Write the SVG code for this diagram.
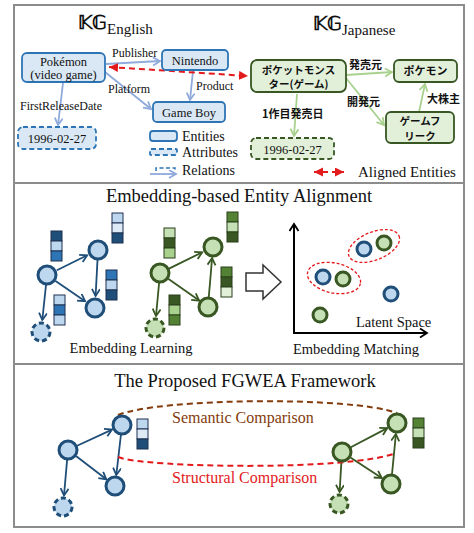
<svg xmlns="http://www.w3.org/2000/svg" width="474" height="533" viewBox="0 0 474 533">
<style>
.frame{fill:#fff;stroke:#8c8c8c;stroke-width:2}
.t{font-family:"Liberation Serif","Times New Roman",serif;fill:#111}
.jp{font-family:"Noto Sans CJK JP",sans-serif;font-weight:bold;fill:#111}
.ent{fill:#dae8f5;stroke:#2e75b6;stroke-width:1.8}
.att{fill:#dae8f5;stroke:#2e75b6;stroke-width:1.8;stroke-dasharray:5,3}
.jent{fill:#e2f0d9;stroke:#385723;stroke-width:1.8}
.jatt{fill:#e2f0d9;stroke:#385723;stroke-width:1.8;stroke-dasharray:5,3}
.eb{stroke:#8faadc;stroke-width:1.8;fill:none;marker-end:url(#ab)}
.eg{stroke:#a9d18e;stroke-width:1.8;fill:none;marker-end:url(#ag)}
.bn{fill:#bdd7ee;stroke:#1f4e79;stroke-width:3}
.bd{fill:#bdd7ee;stroke:#1f4e79;stroke-width:3;stroke-dasharray:5,3}
.gn{fill:#c5e0b4;stroke:#385723;stroke-width:3}
.gd{fill:#c5e0b4;stroke:#385723;stroke-width:3;stroke-dasharray:5,3}
.ebd{stroke:#1f4e79;stroke-width:1.8;fill:none;marker-end:url(#adb)}
.egd{stroke:#385723;stroke-width:1.8;fill:none;marker-end:url(#adg)}
.cb{stroke:#1f3050;stroke-width:1}
.cg{stroke:#2a3f1a;stroke-width:1}
</style>
<defs>
<marker id="ab" markerUnits="userSpaceOnUse" markerWidth="12" markerHeight="12" refX="8" refY="4.5" orient="auto"><path d="M1,0.5 L8,4.5 L1,8.5" fill="none" stroke="#8faadc" stroke-width="1.8"/></marker>
<marker id="ag" markerUnits="userSpaceOnUse" markerWidth="12" markerHeight="12" refX="8" refY="4.5" orient="auto"><path d="M1,0.5 L8,4.5 L1,8.5" fill="none" stroke="#a9d18e" stroke-width="1.8"/></marker>
<marker id="adb" markerUnits="userSpaceOnUse" markerWidth="12" markerHeight="12" refX="8" refY="4.5" orient="auto"><path d="M1,0.5 L8,4.5 L1,8.5" fill="none" stroke="#1f4e79" stroke-width="1.8"/></marker>
<marker id="adg" markerUnits="userSpaceOnUse" markerWidth="12" markerHeight="12" refX="8" refY="4.5" orient="auto"><path d="M1,0.5 L8,4.5 L1,8.5" fill="none" stroke="#385723" stroke-width="1.8"/></marker>
<marker id="ar" markerUnits="userSpaceOnUse" markerWidth="12" markerHeight="12" refX="9" refY="4.5" orient="auto-start-reverse"><path d="M0,0 L9,4.5 L0,9 Z" fill="#e31a1c"/></marker>
<marker id="ak" markerUnits="userSpaceOnUse" markerWidth="12" markerHeight="12" refX="8" refY="5" orient="auto"><path d="M1,0.5 L8,5 L1,9.5" fill="none" stroke="#000" stroke-width="1.8"/></marker>
</defs>

<!-- panels -->
<rect class="frame" x="14" y="5" width="450" height="178"/>
<rect class="frame" x="14" y="183" width="450" height="181"/>
<rect class="frame" x="14" y="364" width="450" height="163"/>

<!-- Panel 1 titles -->
<text class="t" x="78" y="29" font-size="19" font-weight="bold" font-family="DejaVu Serif,DejaVu Sans,serif">𝕂𝔾<tspan font-family="Liberation Serif,serif" font-weight="normal" font-size="15" dy="5">English</tspan></text>
<text class="t" x="313" y="30" font-size="19" font-weight="bold" font-family="DejaVu Serif,DejaVu Sans,serif">𝕂𝔾<tspan font-family="Liberation Serif,serif" font-weight="normal" font-size="15" dy="5">Japanese</tspan></text>

<g id="connectors">
  <line class="eb" x1="106" y1="64" x2="160" y2="61"/>
  <line class="eb" x1="105" y1="72" x2="151" y2="109"/>
  <line class="eb" x1="193" y1="71" x2="190" y2="100"/>
  <line class="eb" x1="63" y1="83" x2="58" y2="125"/>
  <line class="eg" x1="346" y1="75" x2="392" y2="72"/>
  <line class="eg" x1="346" y1="78" x2="384" y2="125"/>
  <line class="eg" x1="419" y1="112" x2="425" y2="84"/>
  <line class="eg" x1="297" y1="94" x2="294" y2="136"/>
  <line x1="109" y1="67" x2="248" y2="76" stroke="#e31a1c" stroke-width="2" stroke-dasharray="6,4" marker-start="url(#ar)" marker-end="url(#ar)"/>
  <!-- panel 2 blue -->
  <line class="ebd" x1="56.9" y1="270.2" x2="87.2" y2="255.3"/>
  <line class="ebd" x1="55.2" y1="280.7" x2="85.1" y2="301.2"/>
  <line class="ebd" x1="97.5" y1="260" x2="95.6" y2="296"/>
  <line class="ebd" x1="46" y1="285" x2="42.3" y2="320"/>
  <!-- panel 2 green -->
  <line class="egd" x1="169" y1="268.6" x2="202.2" y2="252.3"/>
  <line class="egd" x1="168.2" y1="278.8" x2="199.2" y2="300.6"/>
  <line class="egd" x1="208.8" y1="297" x2="212.1" y2="258"/>
  <line class="egd" x1="159.1" y1="283" x2="156" y2="316"/>
  <!-- panel 3 blue -->
  <line class="ebd" x1="77.1" y1="445.8" x2="112" y2="429.6"/>
  <line class="ebd" x1="76" y1="456" x2="106.3" y2="479.3"/>
  <line class="ebd" x1="120.9" y1="435" x2="116.3" y2="475"/>
  <line class="ebd" x1="67.1" y1="460" x2="64" y2="495.5"/>
  <!-- panel 3 green -->
  <line class="egd" x1="350.8" y1="447.3" x2="387.3" y2="428.1"/>
  <line class="egd" x1="350.4" y1="457.5" x2="381.8" y2="478"/>
  <line class="egd" x1="392" y1="474" x2="395.9" y2="434"/>
  <line class="egd" x1="341.4" y1="462" x2="339.6" y2="492"/>
  <!-- comparisons -->
  <path d="M118,415 C160,398 350,396 397,413" fill="none" stroke="#843c0c" stroke-width="2" stroke-dasharray="6,4"/>
  <path d="M118,457 C145,468 350,471 396,453" fill="none" stroke="#e31a1c" stroke-width="2" stroke-dasharray="6,4"/>
</g>

<!-- edge labels -->
<g id="edge-labels" class="t" font-size="12">
  <text x="112" y="57">Publisher</text>
  <text x="108" y="93">Platform</text>
  <text x="196" y="90">Product</text>
  <text x="20" y="110">FirstReleaseDate</text>
</g>
<g id="edge-labels-jp" class="jp" font-size="11">
  <text x="349" y="69">発売元</text>
  <text x="347" y="106">開発元</text>
  <text x="427" y="103">大株主</text>
  <text x="262" y="118">1作目発売日</text>
</g>

<!-- English KG nodes -->
<g id="n-pokemon"><rect class="ent" x="22" y="53" width="83" height="29" rx="5"/>
  <text class="t" x="63.5" y="66" font-size="12.5" text-anchor="middle">Pokémon</text>
  <text class="t" x="63.5" y="79" font-size="12.5" text-anchor="middle">(video game)</text></g>
<g id="n-nintendo"><rect class="ent" x="162" y="50" width="66" height="20" rx="4"/>
  <text class="t" x="195" y="64.5" font-size="12.5" text-anchor="middle">Nintendo</text></g>
<g id="n-gameboy"><rect class="ent" x="153" y="102" width="72" height="20" rx="4"/>
  <text class="t" x="189" y="116.5" font-size="12.5" text-anchor="middle">Game Boy</text></g>
<g id="n-date-en"><rect class="att" x="18" y="127" width="78" height="22" rx="5"/>
  <text class="t" x="57" y="142.5" font-size="12.5" text-anchor="middle">1996-02-27</text></g>

<!-- Japanese KG nodes -->
<g id="n-pokemon-jp"><rect class="jent" x="251" y="60" width="95" height="32" rx="6"/>
  <text class="jp" x="298.5" y="74" font-size="10.5" text-anchor="middle">ポケットモンス</text>
  <text class="jp" x="298.5" y="88" font-size="10.5" text-anchor="middle">ター(ゲーム)</text></g>
<g id="n-pokemon-co"><rect class="jent" x="394" y="60" width="63" height="22" rx="5"/>
  <text class="jp" x="425.5" y="75" font-size="11" text-anchor="middle">ポケモン</text></g>
<g id="n-gamefreak"><rect class="jent" x="386" y="112" width="68" height="31" rx="5"/>
  <text class="jp" x="420" y="125" font-size="10.5" text-anchor="middle">ゲームフ</text>
  <text class="jp" x="420" y="139.5" font-size="10.5" text-anchor="middle">リーク</text></g>
<g id="n-date-jp"><rect class="jatt" x="251" y="138" width="83" height="21" rx="5"/>
  <text class="t" x="292.5" y="153.5" font-size="12.5" text-anchor="middle">1996-02-27</text></g>

<!-- legend -->
<g id="legend">
  <rect class="ent" x="150" y="131" width="27" height="10" rx="3"/>
  <text class="t" x="182" y="141" font-size="14">Entities</text>
  <rect class="att" x="150" y="149" width="27" height="6" rx="1" stroke-dasharray="4,2.5"/>
  <text class="t" x="182" y="157" font-size="14">Attributes</text>
  <path d="M156,171 V168 H175 V170" fill="none" stroke="#2e75b6" stroke-width="1.5" stroke-dasharray="4,2.5"/>
  <line x1="150" y1="174" x2="176" y2="174" stroke="#8faadc" stroke-width="1.8" marker-end="url(#ab)"/>
  <text class="t" x="182" y="175" font-size="14">Relations</text>
  <line x1="314" y1="172" x2="344" y2="172" stroke="#e31a1c" stroke-width="2" stroke-dasharray="5,4" marker-start="url(#ar)" marker-end="url(#ar)"/>
  <text class="t" x="358" y="177" font-size="15">Aligned Entities</text>
</g>

<!-- Panel 2 -->
<text class="t" x="239" y="202" font-size="18.5" text-anchor="middle">Embedding-based Entity Alignment</text>
<g id="p2-blue">
  <circle class="bn" cx="47" cy="275" r="9"/>
  <circle class="bn" cx="98" cy="250" r="9"/>
  <circle class="bn" cx="95" cy="308" r="9"/>
  <circle class="bd" cx="41" cy="332" r="9"/>
</g>
<g id="p2-blue-vectors" class="cb">
  <rect x="51" y="231" width="11" height="10" fill="#1f4e79"/><rect x="51" y="241" width="11" height="10" fill="#bdd7ee"/><rect x="51" y="251" width="11" height="10" fill="#2e75b6"/>
  <rect x="112" y="213" width="11" height="10" fill="#bdd7ee"/><rect x="112" y="223" width="11" height="10" fill="#deebf7"/><rect x="112" y="233" width="11" height="10" fill="#1f4e79"/>
  <rect x="106" y="270" width="11" height="10" fill="#2e75b6"/><rect x="106" y="280" width="11" height="10" fill="#bdd7ee"/><rect x="106" y="290" width="11" height="10" fill="#1f4e79"/>
  <rect x="54" y="295" width="11" height="10" fill="#bdd7ee"/><rect x="54" y="305" width="11" height="10" fill="#2e75b6"/><rect x="54" y="315" width="11" height="10" fill="#bdd7ee"/>
</g>
<g id="p2-green">
  <circle class="gn" cx="160" cy="273" r="9"/>
  <circle class="gn" cx="213" cy="247" r="9"/>
  <circle class="gn" cx="208" cy="307" r="9"/>
  <circle class="gd" cx="155" cy="328" r="9"/>
</g>
<g id="p2-green-vectors" class="cg">
  <rect x="164" y="228" width="11" height="10" fill="#c5e0b4"/><rect x="164" y="238" width="11" height="10" fill="#385723"/><rect x="164" y="248" width="11" height="10" fill="#a9d18e"/>
  <rect x="227" y="212" width="11" height="10" fill="#548235"/><rect x="227" y="222" width="11" height="10" fill="#c5e0b4"/><rect x="227" y="232" width="11" height="10" fill="#385723"/>
  <rect x="221" y="267" width="11" height="10" fill="#548235"/><rect x="221" y="277" width="11" height="10" fill="#385723"/><rect x="221" y="287" width="11" height="10" fill="#e2f0d9"/>
  <rect x="169" y="295" width="11" height="10" fill="#385723"/><rect x="169" y="305" width="11" height="10" fill="#a9d18e"/><rect x="169" y="315" width="11" height="10" fill="#548235"/>
</g>
<text class="t" x="131" y="353" font-size="14.5" text-anchor="middle">Embedding Learning</text>

<polygon id="big-arrow" points="246,273 263,273 263,265 281,282 263,299 263,291 246,291" fill="#fff" stroke="#333" stroke-width="1.5"/>

<g id="latent-space">
  <line x1="294" y1="333" x2="294" y2="224" stroke="#000" stroke-width="2" marker-end="url(#ak)"/>
  <line x1="293" y1="333" x2="427" y2="333" stroke="#000" stroke-width="2" marker-end="url(#ak)"/>
  <ellipse cx="334" cy="278" rx="27" ry="15" transform="rotate(12 334 278)" fill="none" stroke="#e31a1c" stroke-width="1.3" stroke-dasharray="3,2"/>
  <ellipse cx="374" cy="246" rx="27" ry="14" transform="rotate(-22 374 246)" fill="none" stroke="#e31a1c" stroke-width="1.3" stroke-dasharray="3,2"/>
  <circle class="bn" cx="323" cy="277" r="7"/>
  <circle class="gn" cx="343" cy="279" r="7"/>
  <circle class="bn" cx="364" cy="249" r="7"/>
  <circle class="gn" cx="384" cy="243" r="7"/>
  <circle class="bn" cx="391" cy="294" r="7"/>
  <circle class="gn" cx="320" cy="315" r="7"/>
  <text class="t" x="356" y="327" font-size="14.5">Latent Space</text>
</g>
<text class="t" x="356" y="354" font-size="14.5" text-anchor="middle">Embedding Matching</text>

<!-- Panel 3 -->
<text class="t" x="245" y="387" font-size="18.5" text-anchor="middle">The Proposed FGWEA Framework</text>
<g id="p3-blue">
  <circle class="bn" cx="68" cy="450" r="9"/>
  <circle class="bn" cx="122" cy="425" r="9"/>
  <circle class="bn" cx="115" cy="486" r="9"/>
  <circle class="bd" cx="63" cy="507" r="9"/>
  <g class="cb"><rect x="137" y="419" width="11" height="10" fill="#bdd7ee"/><rect x="137" y="429" width="11" height="10" fill="#deebf7"/><rect x="137" y="439" width="11" height="10" fill="#1f4e79"/></g>
</g>
<g id="p3-green">
  <circle class="gn" cx="342" cy="452" r="9"/>
  <circle class="gn" cx="397" cy="423" r="9"/>
  <circle class="gn" cx="391" cy="484" r="9"/>
  <circle class="gd" cx="339" cy="504" r="9"/>
  <g class="cg"><rect x="413" y="418" width="11" height="10" fill="#548235"/><rect x="413" y="428" width="11" height="10" fill="#c5e0b4"/><rect x="413" y="438" width="11" height="10" fill="#385723"/></g>
</g>
<text class="t" x="172" y="423" font-size="16" style="fill:#843c0c">Semantic Comparison</text>
<text class="t" x="172" y="483" font-size="16" style="fill:#e31a1c">Structural Comparison</text>
</svg>
